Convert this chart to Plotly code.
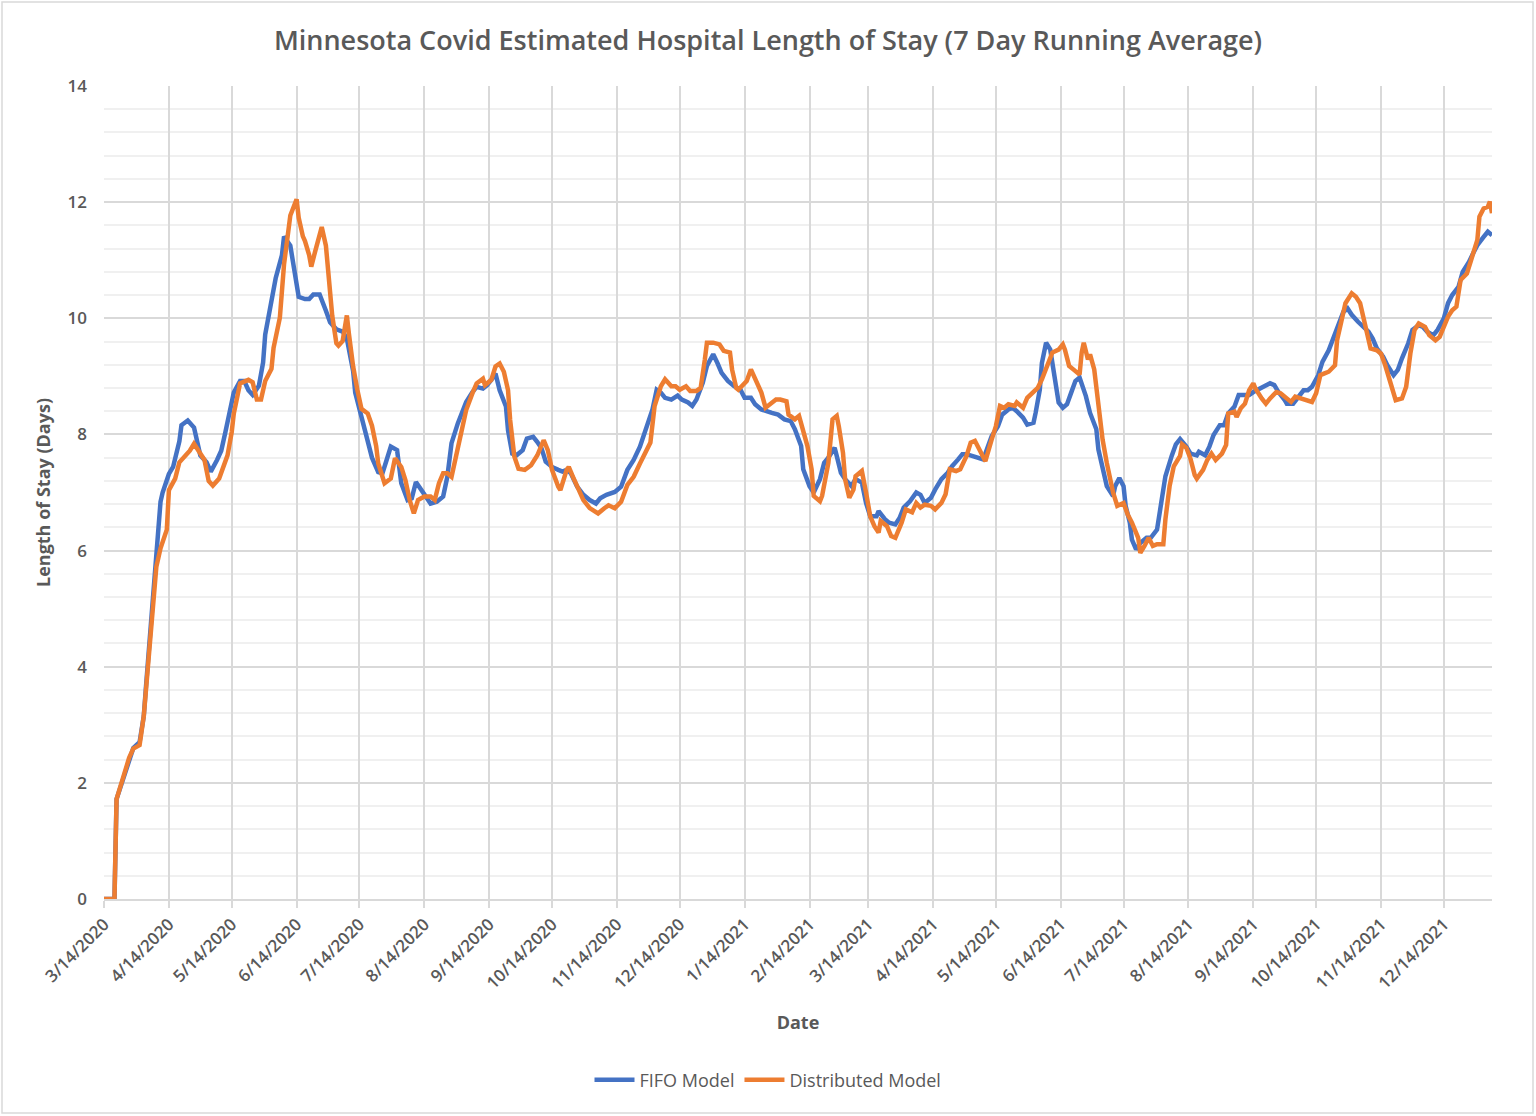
import pandas as pd
import plotly.graph_objects as go

start_date = "2020-03-14"
end_day = 663

fifo_day = [0,5,6,8,10,12,14,17,19,20,22,23,25,27,28,31,33,36,37,40,43,46,49,51,54,56,58,59,61,62,65,67,69,71,74,76,77,80,82,85,86,89,91,93,96,98,100,103,106,108,111,114,116,119,120,123,126,128,131,133,135,137,140,142,145,147,149,151,154,156,159,162,164,166,169,171,173,176,178,181,183,185,187,189,192,193,195,197,200,202,205,207,209,211,214,217,219,221,223,226,229,232,235,237,240,244,247,250,253,256,259,262,264,266,268,271,274,276,279,281,283,286,288,291,293,295,298,301,304,306,309,311,314,316,319,322,325,328,330,333,334,337,339,342,344,346,349,350,352,354,357,359,362,364,366,369,370,373,375,378,380,382,385,388,390,392,395,397,400,403,405,408,410,412,415,417,420,422,424,427,429,432,434,436,439,441,444,445,447,448,450,452,453,455,456,458,460,462,464,466,467,469,471,474,475,477,479,482,483,485,487,488,490,491,493,495,498,500,503,505,507,510,512,514,517,519,522,523,526,528,530,533,535,537,540,542,545,547,549,552,554,557,559,561,564,565,568,570,573,575,577,580,582,585,587,589,592,594,596,599,601,604,606,608,611,613,616,618,620,623,625,628,630,632,635,637,640,642,644,647,649,652,654,656,659,661,663]
fifo_los = [0,0,1.72,1.95,2.19,2.43,2.6,2.7,3.15,3.63,4.5,5.16,5.96,6.84,7.0,7.32,7.44,7.88,8.16,8.24,8.12,7.64,7.52,7.36,7.56,7.72,8.04,8.2,8.52,8.72,8.92,8.92,8.76,8.68,8.84,9.24,9.72,10.29,10.69,11.09,11.41,11.25,10.85,10.37,10.33,10.33,10.41,10.41,10.13,9.93,9.81,9.77,9.65,9.09,8.72,8.32,7.88,7.6,7.35,7.33,7.56,7.79,7.73,7.16,6.87,6.9,7.18,7.07,6.93,6.81,6.84,6.93,7.27,7.85,8.19,8.36,8.56,8.73,8.82,8.79,8.85,8.94,9.05,8.76,8.48,8.07,7.67,7.64,7.73,7.93,7.96,7.87,7.76,7.53,7.44,7.39,7.36,7.39,7.33,7.1,6.96,6.87,6.81,6.9,6.96,7.01,7.1,7.39,7.56,7.79,8.11,8.43,8.77,8.72,8.63,8.6,8.67,8.6,8.55,8.49,8.6,8.89,9.18,9.38,9.23,9.06,8.92,8.83,8.77,8.63,8.63,8.52,8.43,8.4,8.37,8.34,8.26,8.23,8.09,7.8,7.4,7.11,7.0,7.23,7.51,7.6,7.77,7.63,7.34,7.23,7.11,7.23,7.17,6.82,6.59,6.59,6.68,6.54,6.48,6.45,6.56,6.74,6.85,7.0,6.96,6.82,6.91,7.05,7.23,7.34,7.45,7.57,7.66,7.66,7.63,7.6,7.57,7.77,7.97,8.14,8.34,8.43,8.46,8.4,8.29,8.17,8.2,8.37,8.77,9.23,9.58,9.46,9.23,8.83,8.55,8.46,8.52,8.72,8.92,8.98,8.89,8.66,8.37,8.09,7.74,7.45,7.11,6.94,7.11,7.25,7.11,6.77,6.48,6.19,6.02,6.13,6.22,6.22,6.36,6.82,7.28,7.63,7.83,7.92,7.79,7.67,7.64,7.7,7.64,7.79,7.99,8.16,8.16,8.36,8.48,8.68,8.68,8.68,8.73,8.79,8.82,8.88,8.85,8.73,8.59,8.53,8.53,8.62,8.76,8.76,8.82,9.02,9.25,9.45,9.65,9.85,10.11,10.17,10.06,9.94,9.88,9.77,9.65,9.48,9.34,9.19,9.02,9.11,9.31,9.57,9.8,9.88,9.85,9.77,9.71,9.8,10.0,10.26,10.4,10.54,10.8,10.97,11.12,11.26,11.4,11.49,11.43]

dist_day = [0,5,6,8,10,12,14,17,19,20,22,23,25,27,30,31,34,36,39,41,43,46,48,50,52,55,58,59,61,62,65,67,69,71,73,75,77,80,81,84,85,86,88,89,92,93,95,96,98,99,101,103,104,106,108,109,111,112,114,116,117,119,121,123,126,128,130,131,134,137,139,142,144,146,148,150,153,156,158,160,162,164,166,169,171,173,176,178,181,182,185,187,189,191,193,194,196,198,201,204,207,209,210,212,214,217,218,221,222,224,227,229,232,236,239,241,244,247,250,253,256,259,261,263,266,268,271,273,275,278,280,283,285,287,288,291,294,296,299,300,302,303,306,307,309,311,314,316,318,321,323,326,327,330,332,334,336,338,339,342,343,346,348,350,351,353,354,356,358,359,362,364,366,368,370,371,374,376,378,381,383,386,388,390,392,395,397,400,402,404,407,409,412,414,416,419,421,424,426,428,430,432,435,436,439,441,444,446,448,451,453,456,458,459,461,463,466,467,468,470,471,473,475,477,479,482,484,487,489,491,494,495,497,499,501,503,506,507,509,511,514,515,517,519,521,522,525,527,529,531,534,536,537,540,541,543,545,547,549,550,553,555,557,560,562,565,567,569,572,574,577,579,581,583,585,588,589,591,593,596,598,600,602,604,605,608,610,612,614,616,617,620,622,624,626,628,631,633,636,638,640,642,644,646,648,651,653,656,657,659,661,662,663]
dist_los = [0,0,1.72,1.95,2.19,2.43,2.59,2.65,3.15,3.55,4.43,4.75,5.72,6.04,6.36,7.04,7.24,7.52,7.64,7.72,7.84,7.68,7.56,7.2,7.12,7.24,7.52,7.64,8.04,8.36,8.88,8.92,8.94,8.9,8.6,8.6,8.92,9.13,9.49,10.01,10.45,10.93,11.49,11.77,12.05,11.73,11.41,11.33,11.09,10.89,11.17,11.41,11.57,11.25,10.37,10.05,9.57,9.53,9.61,10.05,9.73,9.17,8.77,8.44,8.36,8.15,7.8,7.5,7.16,7.24,7.59,7.44,7.21,6.87,6.64,6.87,6.93,6.93,6.87,7.16,7.33,7.33,7.27,7.73,8.07,8.42,8.71,8.88,8.96,8.85,8.94,9.17,9.22,9.08,8.76,8.25,7.62,7.41,7.39,7.47,7.64,7.79,7.9,7.73,7.39,7.1,7.04,7.39,7.44,7.27,7.04,6.87,6.73,6.64,6.73,6.78,6.73,6.84,7.13,7.27,7.5,7.74,7.86,8.49,8.83,8.95,8.83,8.83,8.77,8.83,8.75,8.75,8.8,9.29,9.58,9.58,9.55,9.44,9.41,9.12,8.8,8.77,8.89,8.92,9.12,8.95,8.72,8.46,8.52,8.6,8.6,8.57,8.34,8.26,8.32,8.03,7.8,7.4,6.94,6.85,6.94,7.51,8.26,8.32,8.14,7.68,7.23,6.91,7.05,7.28,7.37,7.0,6.59,6.42,6.31,6.51,6.42,6.25,6.22,6.48,6.71,6.66,6.82,6.74,6.79,6.77,6.71,6.82,6.97,7.4,7.37,7.4,7.63,7.86,7.89,7.68,7.54,7.91,8.14,8.49,8.46,8.52,8.49,8.55,8.46,8.63,8.72,8.8,8.95,9.23,9.41,9.46,9.55,9.46,9.18,9.12,9.03,9.41,9.58,9.29,9.38,9.12,8.55,7.91,7.51,7.0,6.77,6.82,6.62,6.48,6.22,5.96,6.08,6.22,6.08,6.11,6.11,6.54,7.11,7.45,7.63,7.83,7.77,7.58,7.3,7.24,7.39,7.56,7.67,7.56,7.67,7.82,8.36,8.39,8.3,8.45,8.53,8.76,8.88,8.79,8.62,8.53,8.62,8.73,8.71,8.62,8.56,8.65,8.62,8.59,8.56,8.71,9.02,9.05,9.08,9.19,9.62,9.94,10.26,10.43,10.37,10.26,9.97,9.68,9.48,9.45,9.39,9.19,8.94,8.68,8.59,8.62,8.82,9.39,9.8,9.91,9.85,9.71,9.62,9.68,9.85,10.03,10.14,10.2,10.66,10.77,11.0,11.35,11.75,11.89,11.92,12.01,11.81]

tick_dates = ["2020-03-14","2020-04-14","2020-05-14","2020-06-14","2020-07-14","2020-08-14",
              "2020-09-14","2020-10-14","2020-11-14","2020-12-14","2021-01-14","2021-02-14",
              "2021-03-14","2021-04-14","2021-05-14","2021-06-14","2021-07-14","2021-08-14",
              "2021-09-14","2021-10-14","2021-11-14","2021-12-14"]
tick_labels = ["3/14/2020","4/14/2020","5/14/2020","6/14/2020","7/14/2020","8/14/2020",
               "9/14/2020","10/14/2020","11/14/2020","12/14/2020","1/14/2021","2/14/2021",
               "3/14/2021","4/14/2021","5/14/2021","6/14/2021","7/14/2021","8/14/2021",
               "9/14/2021","10/14/2021","11/14/2021","12/14/2021"]

t0 = pd.Timestamp(start_date)
fifo_x = t0 + pd.to_timedelta(fifo_day, unit="D")
dist_x = t0 + pd.to_timedelta(dist_day, unit="D")
x_end = t0 + pd.Timedelta(days=end_day)

FONT = "Open Sans"
GRAY = "#595959"

fig = go.Figure()
fig.add_trace(go.Scatter(x=fifo_x, y=fifo_los, mode="lines", name="FIFO Model",
                         line=dict(color="#4472C4", width=4.5)))
fig.add_trace(go.Scatter(x=dist_x, y=dist_los, mode="lines", name="Distributed Model",
                         line=dict(color="#ED7D31", width=4.5)))

W, H = 1536, 1116
L, R, T, B = 104, 44, 86, 217
pw, ph = W - L - R, H - T - B

def px_x(x):
    return (x - L) / pw

def px_y(y):
    return (H - B - y) / ph

fig.add_shape(type="rect", xref="paper", yref="paper",
              x0=px_x(2), x1=px_x(1533), y0=px_y(1113), y1=px_y(2),
              line=dict(color="#d9d9d9", width=1.5), fillcolor="rgba(0,0,0,0)", layer="below")

fig.update_layout(
    width=W, height=H,
    margin=dict(l=L, r=R, t=T, b=B, autoexpand=False),
    paper_bgcolor="white", plot_bgcolor="white",
    font=dict(family=FONT, color=GRAY),
    title=dict(text="Minnesota Covid Estimated Hospital Length of Stay (7 Day Running Average)",
               x=0.5, xref="container", xanchor="center",
               y=1 - 41 / H, yref="container", yanchor="middle",
               font=dict(family=FONT, size=27, color=GRAY, weight=600)),
    showlegend=True,
    legend=dict(orientation="h", xref="container", yref="container",
                x=0.5, xanchor="center", y=1 - 1080 / H, yanchor="middle",
                font=dict(family=FONT, size=18, color=GRAY),
                itemwidth=40, tracegroupgap=0),
    xaxis=dict(
        type="date", range=[t0, x_end],
        tickmode="array", tickvals=tick_dates, ticktext=tick_labels,
        tickangle=-45,
        tickfont=dict(family=FONT, size=17, color=GRAY, weight=600),
        showgrid=True, gridcolor="#d9d9d9", gridwidth=1.5,
        showline=True, linecolor="#d9d9d9", linewidth=1.5,
        ticks="outside", ticklen=7, tickcolor="#d9d9d9", tickwidth=1.5,
        zeroline=False,
        title=dict(text="Date", standoff=24,
                   font=dict(family=FONT, size=18, color=GRAY, weight=700)),
    ),
    yaxis=dict(
        range=[0, 14], dtick=2, tick0=0,
        tickfont=dict(family=FONT, size=17, color=GRAY, weight=600),
        showgrid=True, gridcolor="#d9d9d9", gridwidth=1.5,
        minor=dict(dtick=0.4, tick0=0, showgrid=True, gridcolor="#f0f0f0", gridwidth=1.5),
        showline=False, zeroline=False,
        ticks="", ticklabelstandoff=16,
        title=dict(text="Length of Stay (Days)", standoff=12,
                   font=dict(family=FONT, size=18, color=GRAY, weight=700)),
    ),
)

fig.write_html("out.html")
